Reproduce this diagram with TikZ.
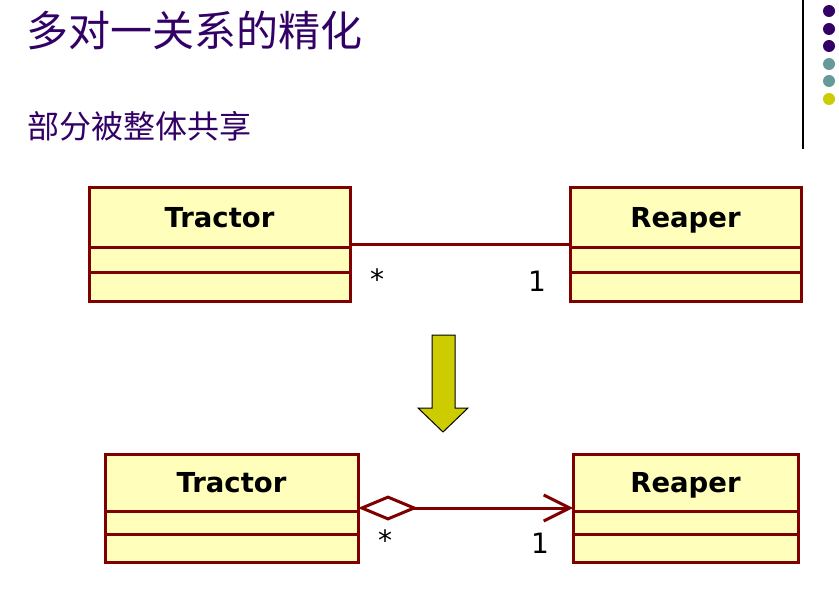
\documentclass[tikz,border=0pt]{standalone}
\usepackage{fontspec}
\setmainfont{DejaVu Sans}
\newfontfamily\cjk{Noto Sans CJK SC}
\usetikzlibrary{arrows.meta}
\definecolor{umlred}{RGB}{128,0,0}
\definecolor{umlfill}{RGB}{255,255,187}
\definecolor{slidepurple}{RGB}{51,0,102}
\definecolor{slideteal}{RGB}{102,153,153}
\definecolor{slideyellow}{RGB}{204,204,0}

\begin{document}
\begin{tikzpicture}[x=1pt, y=-1pt,
  classname/.style={draw=umlred, fill=umlfill, line width=3pt, inner sep=0pt, outer sep=0pt,
    font=\bfseries\fontsize{27.5}{27.5}\selectfont, text height=20pt, text depth=0pt},
  classpart/.style={draw=umlred, fill=umlfill, line width=3pt},
  assoc/.style={umlred, line width=3pt},
  mult/.style={font=\fontsize{28}{28}\selectfont, inner sep=0pt, anchor=base}]

  % Page
  \fill[white] (0,0) rectangle (839,599);
  \useasboundingbox (0,0) rectangle (839,599);

  % Title
  \node[font=\cjk\fontsize{42}{42}\selectfont, text=slidepurple, anchor=west, inner sep=0pt] (title) at (26,30) {多对一关系的精化};
  \node[font=\cjk\fontsize{32}{32}\selectfont, text=slidepurple, anchor=west, inner sep=0pt] (subtitle) at (27,126) {部分被整体共享};

  % Slide decoration
  \draw[line width=1.2pt] (803,0) -- (803,149);
  \foreach \y/\c in {11/slidepurple, 29/slidepurple, 46/slidepurple, 64/slideteal, 81/slideteal, 99/slideyellow}
    \fill[\c] (829,\y) circle (6);

  % Upper classes
  \node[classname, minimum width=261pt, minimum height=60pt] (tractorA) at (219.5,218) {Tractor};
  \draw[classpart] (tractorA.south west) rectangle ++(261,24);
  \draw[classpart] ([yshift=-24pt]tractorA.south west) rectangle ++(261,29);
  \node[classname, minimum width=231pt, minimum height=60pt] (reaperA) at (685.5,218) {Reaper};
  \draw[classpart] (reaperA.south west) rectangle ++(231,24);
  \draw[classpart] ([yshift=-24pt]reaperA.south west) rectangle ++(231,29);

  % Upper association
  \draw[assoc] ([yshift=3pt]tractorA.south east) -- ([yshift=3pt]reaperA.south west);
  \node[mult] (manyA) at (377,289) {*};
  \node[mult] (oneA) at (537,291) {1};

  % Refinement arrow
  \draw[black, line width=1pt, fill=slideyellow] (432,335) -- (455,335) -- (455,408) -- (468,408) -- (443,432) -- (418,408) -- (432,408) -- cycle;

  % Lower classes
  \node[classname, minimum width=253pt, minimum height=57pt] (tractorB) at (231.5,482.5) {Tractor};
  \draw[classpart] (tractorB.south west) rectangle ++(253,23);
  \draw[classpart] ([yshift=-23pt]tractorB.south west) rectangle ++(253,28);
  \node[classname, minimum width=225pt, minimum height=57pt] (reaperB) at (685.5,482.5) {Reaper};
  \draw[classpart] (reaperB.south west) rectangle ++(225,23);
  \draw[classpart] ([yshift=-23pt]reaperB.south west) rectangle ++(225,28);

  % Lower aggregation
  \draw[assoc, {Diamond[open, length=60pt, width=25pt]}-{Straight Barb[length=26pt, width=26pt]}]
    ([yshift=3pt]tractorB.south east) -- ([yshift=3pt]reaperB.south west);
  \node[mult] (manyB) at (385,550) {*};
  \node[mult] (oneB) at (540,553) {1};
\end{tikzpicture}
\end{document}
